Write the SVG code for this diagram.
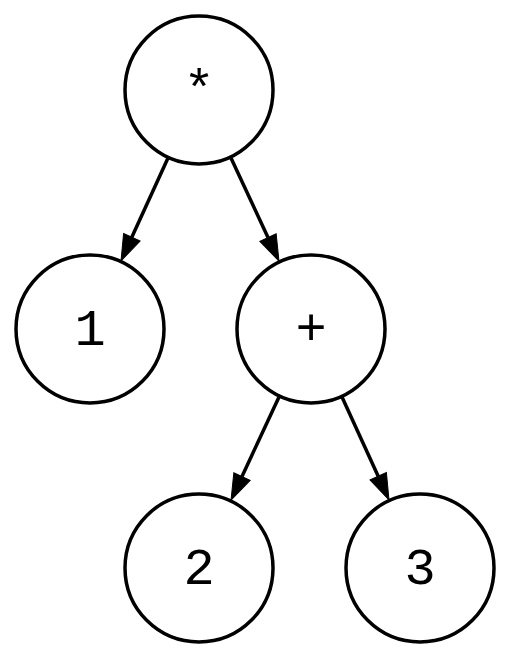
<svg xmlns="http://www.w3.org/2000/svg" width="510" height="659" viewBox="0 0 510 659">
<style>
.node circle{fill:#fff;stroke:#000;stroke-width:3.5}
.node text{font-family:"Liberation Mono","DejaVu Sans Mono",monospace;font-size:52px;text-anchor:middle;fill:#000}
.edges line{stroke:#000;stroke-width:3.5}
</style>
<defs>
<marker id="arr" markerUnits="userSpaceOnUse" markerWidth="30" markerHeight="22" refX="0" refY="9" orient="auto" viewBox="0 0 30 18" overflow="visible">
<path d="M0,0 L26,9 L0,18 z" fill="#000" stroke="#000" stroke-width="1"/>
</marker>
</defs>
<rect width="510" height="659" fill="#fff"/>
<g id="edges" class="edges">
<line x1="168" y1="158" x2="131.8" y2="237.3" marker-end="url(#arr)"/>
<line x1="231" y1="158" x2="268" y2="237.5" marker-end="url(#arr)"/>
<line x1="279" y1="397" x2="242" y2="476.5" marker-end="url(#arr)"/>
<line x1="342" y1="397" x2="378.2" y2="476.3" marker-end="url(#arr)"/>
</g>
<g id="node-mul" class="node"><circle cx="199" cy="90" r="74"/><text x="199" y="106">*</text></g>
<g id="node-1" class="node"><circle cx="90" cy="329" r="74"/><text x="90" y="345">1</text></g>
<g id="node-plus" class="node"><circle cx="311" cy="329" r="74"/><text x="311" y="345">+</text></g>
<g id="node-2" class="node"><circle cx="199" cy="568" r="74"/><text x="199" y="584">2</text></g>
<g id="node-3" class="node"><circle cx="420" cy="568" r="74"/><text x="420" y="584">3</text></g>
</svg>
